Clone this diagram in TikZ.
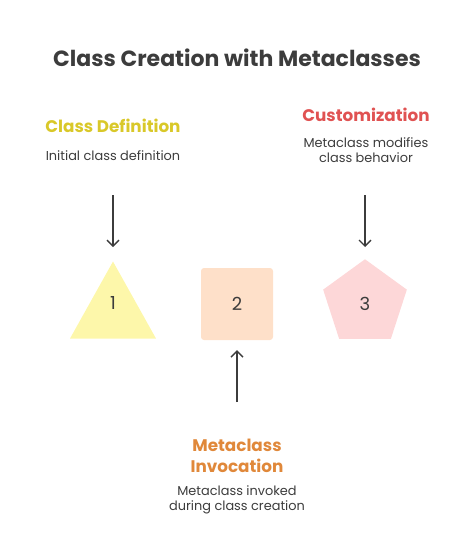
\documentclass[tikz,border=0pt]{standalone}
\usepackage{fontspec}
\setmainfont{Poppins}
\usetikzlibrary{shapes.geometric,arrows.meta}
\definecolor{ink}{HTML}{3C3C3C}
\definecolor{ylw}{HTML}{D9C829}
\definecolor{red}{HTML}{E05252}
\definecolor{org}{HTML}{E0883A}
\definecolor{yfill}{HTML}{FDF7AA}
\definecolor{pfill}{HTML}{FEE0C9}
\definecolor{rfill}{HTML}{FDD7D8}
\tikzset{
  title/.style={font=\bfseries\fontsize{22}{26}\selectfont, text=ink},
  head/.style={font=\bfseries\fontsize{16.8}{20.5}\selectfont, align=center},
  desc/.style={font=\fontsize{12.9}{15.5}\selectfont, text=ink, align=center},
  num/.style={font=\fontsize{18}{21}\selectfont, text=ink},
  conn/.style={draw=ink, line width=1.3pt, -{Straight Barb[length=6pt,width=12pt,line width=1.3pt]}},
}
\begin{document}
\begin{tikzpicture}[x=1pt,y=-1pt]
\useasboundingbox (0,0) rectangle (474,557);
\node[title] (t) at (237,58) {Class Creation with Metaclasses};
\node[head, text=ylw] (h1) at (113,126) {Class Definition};
\node[desc] (d1) at (113,156) {Initial class definition};
\node[head, text=red] (h3) at (366,115) {Customization};
\node[desc] (d3) at (366,150) {Metaclass modifies\\class behavior};
\node[head, text=org] (h2) at (237,456) {Metaclass\\Invocation};
\node[desc] (d2) at (237,500) {Metaclass invoked\\during class creation};
\node[isosceles triangle, isosceles triangle stretches, shape border rotate=90, fill=yfill, minimum width=86pt, minimum height=77pt, inner sep=0pt, anchor=apex] (n1) at (113,261) {};
\node[num] (l1) at (113,303) {1};
\node[rectangle, rounded corners=3pt, fill=pfill, minimum width=72pt, minimum height=72pt, inner sep=0pt, num] (n2) at (237,304) {2};
\node[regular polygon, regular polygon sides=5, fill=rfill, minimum size=88pt, inner sep=0pt, anchor=corner 1] (n3) at (365,259) {};
\node[num] (l3) at (365,304) {3};
\coordinate (a1) at (113,195);
\coordinate (a3) at (365,195);
\coordinate (a2) at (237,402);
\draw[conn, shorten >=14pt] (a1) -- (n1.apex);
\draw[conn, shorten >=12pt] (a3) -- (n3.corner 1);
\draw[conn, shorten >=10pt] (a2) -- (n2.south);
\end{tikzpicture}
\end{document}
